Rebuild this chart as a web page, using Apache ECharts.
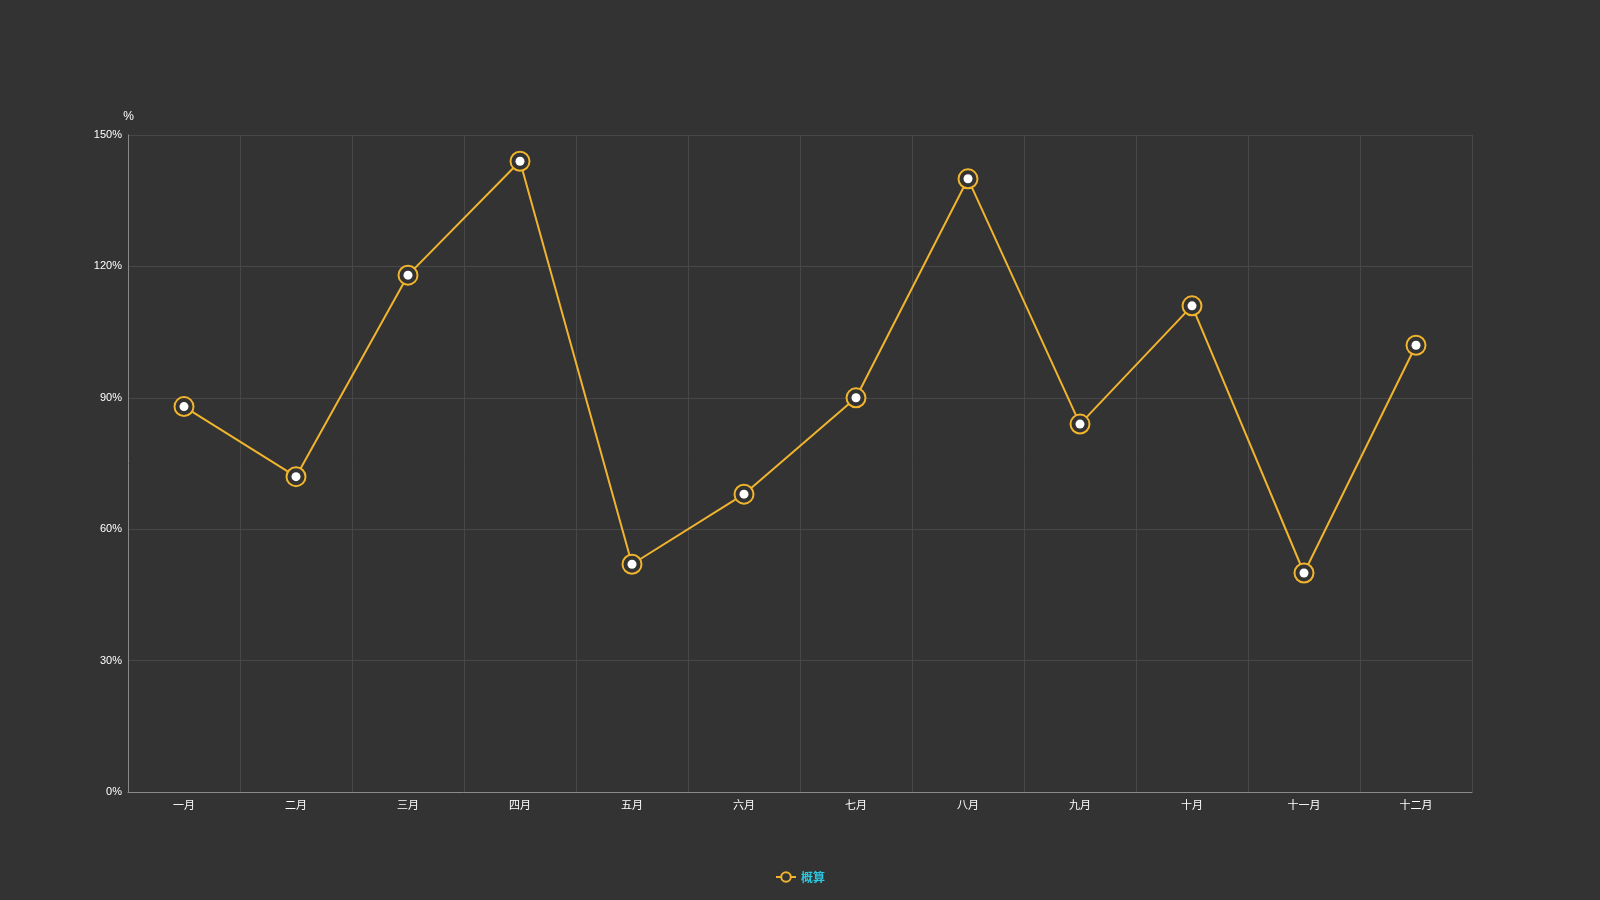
<!DOCTYPE html>
<html>
<head>
<meta charset="utf-8">
<script src="https://cdn.jsdelivr.net/npm/echarts@6/dist/echarts.min.js"></script>
<style>
html,body{margin:0;padding:0;background:#333333;}
#chart{width:1600px;height:900px;}
</style>
</head>
<body>
<div id="chart"></div>
<script>
const categories = ['一月','二月','三月','四月','五月','六月','七月','八月','九月','十月','十一月','十二月'];
const seriesName = '概算';
const values = [88, 72, 118, 144, 52, 68, 90, 140, 84, 111, 50, 102];
const yTicks = { min: 0, max: 150, interval: 30 };

const chart = echarts.init(document.getElementById('chart'));
const orange = '#f0b42e';
const option = {
  backgroundColor: '#333333',
  animation: false,
  grid: { left: 128, right: 128, top: 135, bottom: 108 },
  legend: {
    data: [seriesName],
    bottom: 12,
    left: 'center',
    itemWidth: 20,
    itemHeight: 12,
    textStyle: { color: '#2cc6e0', fontSize: 12, fontWeight: 'bold', fontFamily: 'Noto Sans CJK SC' }
  },
  xAxis: {
    type: 'category',
    data: categories,
    boundaryGap: true,
    axisLine: { show: true, lineStyle: { color: '#8a8a8a', width: 1 } },
    axisTick: { show: false },
    axisLabel: { color: '#ffffff', fontSize: 11, margin: 7, fontFamily: 'Noto Sans CJK SC' },
    splitLine: { show: true, lineStyle: { color: '#474747', width: 1 } }
  },
  yAxis: {
    type: 'value',
    name: '%',
    nameGap: 12,
    nameTextStyle: { color: '#ffffff', fontSize: 12, align: 'right', padding: [0, -6, 0, 0] },
    min: yTicks.min,
    max: yTicks.max,
    interval: yTicks.interval,
    axisLine: { show: true, lineStyle: { color: '#8a8a8a', width: 1 } },
    axisTick: { show: false },
    axisLabel: { color: '#ffffff', fontSize: 11, margin: 6, formatter: '{value}%', fontFamily: 'Liberation Sans' },
    splitLine: { show: true, lineStyle: { color: '#474747', width: 1 } }
  },
  series: [
    {
      name: seriesName,
      type: 'line',
      data: values,
      symbol: 'circle',
      symbolSize: 19,
      showAllSymbol: true,
      lineStyle: { color: orange, width: 2 },
      itemStyle: { color: '#333333', borderColor: orange, borderWidth: 2 },
      z: 2
    },
    {
      name: seriesName + '-dot',
      type: 'line',
      data: values,
      symbol: 'circle',
      symbolSize: 9,
      showAllSymbol: true,
      lineStyle: { width: 0, opacity: 0 },
      itemStyle: { color: '#ffffff' },
      silent: true,
      z: 3
    }
  ]
};
chart.setOption(option);
</script>
</body>
</html>
